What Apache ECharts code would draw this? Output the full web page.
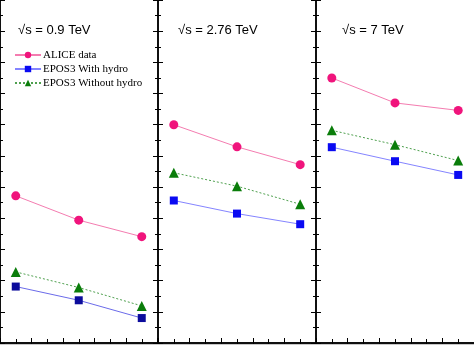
<!DOCTYPE html>
<html>
<head>
<meta charset="utf-8">
<script src="https://cdn.jsdelivr.net/npm/echarts@6/dist/echarts.min.js"></script>
<style>
  html, body { margin: 0; padding: 0; background: #c8c8c8; }
  #chart { width: 474px; height: 344px; background: #fff; }
</style>
</head>
<body>
<div id="chart"></div>
<script>
// x positions of the three points in every panel
const xPos = [1, 5, 9]
const energyLabels = ['√s = 0.9 TeV', '√s = 2.76 TeV', '√s = 7 TeV']

// ALICE data
const alice09 = [4.72, 3.94, 3.41]
const alice276 = [7.00, 6.29, 5.72]
const alice7 = [8.50, 7.70, 7.46]
// EPOS3 with hydro
const hydro09 = [1.81, 1.37, 0.80]
const hydro276 = [4.57, 4.15, 3.81]
const hydro7 = [6.28, 5.83, 5.39]
// EPOS3 without hydro
const noHydro09 = [2.28, 1.78, 1.19]
const noHydro276 = [5.46, 5.03, 4.45]
const noHydro7 = [6.82, 6.36, 5.85]

const panels = [
  { alice: alice09, hydro: hydro09, noHydro: noHydro09, blue: '#0c0c9c', blueLine: '#6b6bea' },
  { alice: alice276, hydro: hydro276, noHydro: noHydro276, blue: '#0a0af2', blueLine: '#8484ff' },
  { alice: alice7, hydro: hydro7, noHydro: noHydro7, blue: '#0a0af2', blueLine: '#8484ff' }
]

const pair = (vals) => xPos.map((x, i) => [x, vals[i]])

const gridLefts = [-0.5, 158, 316]
const grids = gridLefts.map(l => ({ left: l, top: -1, width: 158, height: 344 }))

const axisCommon = {
  min: 0,
  axisLine: { show: true, lineStyle: { color: '#000', width: 1.5 } },
  axisLabel: { show: false },
  splitLine: { show: false }
}

const xAxes = []
const yAxes = []
grids.forEach((g, i) => {
  ['bottom', 'top'].forEach(pos => {
    xAxes.push({
      ...axisCommon, type: 'value', gridIndex: i, position: pos, max: 10, interval: 2,
      axisTick: { show: true, inside: true, length: 5, lineStyle: { color: '#000' } },
      minorTick: { show: true, splitNumber: 2, length: 4, lineStyle: { color: '#000' } }
    })
  })
  ;['left', 'right'].forEach(pos => {
    yAxes.push({
      ...axisCommon, type: 'value', gridIndex: i, position: pos, max: 11, interval: 1,
      axisTick: { show: true, inside: true, length: 5, lineStyle: { color: '#000' } },
      minorTick: { show: true, splitNumber: 2, length: 3, lineStyle: { color: '#000' } }
    })
  })
})

const series = []
panels.forEach((p, i) => {
  series.push({
    name: 'ALICE data', type: 'line', xAxisIndex: i * 2, yAxisIndex: i * 2,
    data: pair(p.alice), symbol: 'circle', symbolSize: 9,
    itemStyle: { color: '#f0147c' },
    lineStyle: { color: '#f47cb0', width: 1 }
  })
  series.push({
    name: 'EPOS3 With hydro', type: 'line', xAxisIndex: i * 2, yAxisIndex: i * 2,
    data: pair(p.hydro), symbol: 'rect', symbolSize: 8,
    itemStyle: { color: p.blue },
    lineStyle: { color: p.blueLine, width: 1 }
  })
  series.push({
    name: 'EPOS3 Without hydro', type: 'line', xAxisIndex: i * 2, yAxisIndex: i * 2,
    data: pair(p.noHydro), symbol: 'triangle', symbolSize: 10,
    itemStyle: { color: '#0a7d0a' },
    lineStyle: { color: '#4ea04e', width: 1, type: [2, 2] }
  })
})

const chart = echarts.init(document.getElementById('chart'))
chart.setOption({
  animation: false,
  backgroundColor: '#fff',
  grid: grids,
  xAxis: xAxes,
  yAxis: yAxes,
  title: energyLabels.map((t, i) => ({
    text: t,
    left: [18, 178, 342][i],
    top: 24,
    padding: 0,
    textStyle: { fontFamily: 'Liberation Sans', fontSize: 13, fontWeight: 'normal', color: '#000' }
  })),
  legend: {
    orient: 'vertical',
    left: 14,
    top: 49,
    itemWidth: 26,
    itemHeight: 8,
    itemGap: 2,
    padding: 0,
    textStyle: { fontFamily: 'Liberation Serif', fontSize: 11, lineHeight: 12, color: '#000', padding: [0, 0, 0, -3] },
    data: [
      { name: 'ALICE data' },
      { name: 'EPOS3 With hydro', itemStyle: { color: '#0a0af2' }, lineStyle: { color: '#8484ff' } },
      { name: 'EPOS3 Without hydro' }
    ]
  },
  series: series
})
</script>
</body>
</html>
